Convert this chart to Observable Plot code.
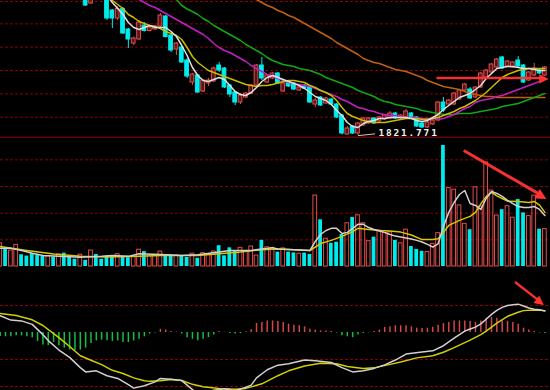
<!DOCTYPE html>
<html><head><meta charset="utf-8">
<script src="https://cdn.jsdelivr.net/npm/d3@7"></script>
<script src="https://cdn.jsdelivr.net/npm/@observablehq/plot@0.6"></script>
<style>
html,body{margin:0;padding:0;background:#000;}
#chart{width:550px;height:390px;overflow:hidden;background:#000;}
#chart svg{display:block;}
</style></head><body><div id="chart"></div>
<script>
// ---------- data ----------
const N = 103;                       // bars in view (index 0..102)
const candleStart = 16;              // first candle visible inside price pane
const openP = [2102,2086,null,null,
 2098,2072,2056,2075,2034,2006,2014,2042,2031,2034,
 2040,2060,2022,1994,1998,1972,1928,1942,1910,1926,
 1930,1962,1956,1922,1908,1888,1898,1906,1922,1962,
 1928,1936,1946,1910,1928,1926,1912,1922,1918,1884,
 1898,1886,1894,1884,1862,1824,1840,1826,1842,1846,
 1856,1850,1854,1856,1866,1856,1858,1866,1858,1846,
 1838,1844,1852,1888,1884,1884,1894,1912,1914,1898,
 1918,1938,1948,1958,1978,1960,1958,1972,1962,1932,
 1942,1952,1942];
const closeP = [2082,2096,null,null,
 2056,2056,2075,2026,2014,2016,2048,2031,2038,2040,
 2062,2019,1992,2006,1968,1940,1944,1908,1932,1932,
 1956,1952,1918,1904,1888,1902,1906,1922,1962,1936,
 1942,1946,1926,1926,1920,1914,1918,1916,1888,1892,
 1882,1896,1884,1858,1826,1836,1826,1846,1856,1856,
 1846,1858,1862,1866,1856,1862,1870,1856,1840,1838,
 1848,1852,1888,1872,1892,1906,1912,1924,1896,1918,
 1946,1952,1964,1974,1956,1970,1968,1960,1928,1948,
 1956,1946,1958];
const highP = [2108,2102,null,null,
 2104,2074,2080,2078,2036,2019,2052,2048,2040,2042,
 2066,2062,2026,2008,2000,1976,1946,1944,1934,1936,
 1959,1968,1958,1924,1910,1906,1908,1924,1964,1978,
 1944,1948,1948,1928,1930,1928,1920,1924,1920,1896,
 1900,1898,1896,1886,1864,1840,1842,1848,1858,1858,
 1858,1860,1864,1870,1868,1864,1874,1868,1860,1848,
 1850,1854,1890,1898,1894,1908,1914,1926,1918,1920,
 1948,1954,1966,1976,1980,1972,1970,1980,1964,1950,
 1966,1954,1960];
const lowP = [2080,2084,null,null,
 2052,2036,2052,2024,1996,2002,2012,2029,2029,2032,
 2038,2017,1988,1982,1966,1936,1922,1906,1908,1920,
 1928,1948,1916,1898,1882,1884,1896,1904,1920,1932,
 1926,1934,1924,1908,1918,1912,1910,1914,1886,1878,
 1880,1884,1882,1856,1823,1823,1824,1821.771,1840,1844,
 1844,1848,1852,1854,1854,1854,1856,1854,1838,1836,
 1836,1842,1850,1868,1882,1882,1892,1910,1894,1896,
 1916,1936,1946,1956,1954,1958,1956,1958,1926,1930,
 1940,1944,1940];

// moving averages of price (start index, values)
const ma5Start = 20;
const ma5 = [2102,2088,2076,2064,2048,2038,2034,2038,2042,2038,
 2038,2038,2030,2020,2002,1982,1958,1942,1932,1930,
 1934,1938,1934,1922,1910,1904,1902,1908,1918,1930,
 1938,1942,1938,1934,1930,1926,1922,1916,1908,1900,
 1896,1892,1884,1872,1862,1848,1840,1838,1846,1850,
 1852,1856,1856,1858,1858,1858,1858,1856,1852,1850,
 1852,1858,1864,1874,1882,1890,1898,1902,1906,1914,
 1922,1936,1946,1956,1958,1960,1960,1958,1956,1956,
 1954,1952,1952];
const ma10Start = 21;
const ma10 = [2092,2084,2076,2064,2058,2050,2046,2042,2040,
 2036,2030,2026,2022,2014,1998,1980,1968,1960,1952,
 1948,1944,1940,1936,1932,1928,1924,1922,1920,1922,
 1922,1924,1927,1930,1932,1932,1930,1928,1922,1918,
 1912,1908,1902,1892,1878,1866,1860,1856,1852,1850,
 1848,1848,1848,1850,1852,1854,1856,1856,1856,1854,
 1854,1856,1858,1862,1866,1870,1876,1880,1886,1892,
 1900,1908,1918,1928,1938,1944,1948,1952,1954,1956,
 1956,1956,1956];
const ma20Start = 26;
const ma20 = [2094,2088,2082,2078,
 2072,2066,2060,2054,2048,2042,2036,2030,2024,2016,
 2006,1998,1992,1988,1982,1976,1970,1962,1956,1950,
 1944,1940,1936,1932,1928,1926,1924,1922,1920,1916,
 1912,1908,1904,1900,1894,1890,1884,1878,1876,1872,
 1870,1866,1864,1862,1862,1860,1858,1858,1858,1856,
 1856,1856,1854,1856,1860,1864,1870,1876,1880,1888,
 1892,1894,1896,1900,1902,1906,1910,1914,1918,1922,
 1926,1930,1936];
const ma30Start = 33;
const ma30 = [2094,2082,2075,2070,2064,2056,2050,
 2042,2036,2030,2024,2018,2012,2004,1998,1992,1986,
 1978,1972,1968,1964,1962,1960,1956,1954,1952,1948,
 1944,1938,1934,1930,1926,1922,1918,1912,1908,1904,
 1900,1894,1890,1888,1884,1882,1880,1878,1876,1872,
 1870,1868,1866,1864,1864,1864,1866,1866,1866,1868,
 1870,1872,1874,1876,1880,1882,1884,1886,1890,1894,
 1898,1902,1906];
const ma60Start = 48;
const ma60 = [2094,2088,
 2082,2078,2072,2068,2062,2058,2052,2046,2040,2034,
 2028,2022,2016,2008,2002,1996,1990,1984,1976,1972,
 1968,1966,1962,1958,1954,1952,1950,1946,1942,1938,
 1932,1928,1924,1920,1918,1916,1914,1910,1906,1904,
 1902,1900,1900,1898,1898,1898,1898,1898,1898,1898,
 1898,1898,1898];

// volume (1 = up / red, 0 = down / cyan)
const vol = [87,69,60,81,44,39,48,41,38,38,
 35,45,50,35,27,44,23,60,45,27,
 39,41,46,35,33,39,63,56,41,42,
 56,44,44,41,40,34,48,31,50,44,
 56,78,40,70,60,70,57,75,41,98,
 72,70,54,68,54,51,48,50,45,266,
 175,104,87,91,120,162,184,192,162,95,
 110,135,125,128,98,87,138,75,64,57,
 54,85,125,454,294,288,229,160,138,297,
 225,390,285,191,213,226,183,251,201,189,
 266,140,140];
const volUp = [1,0,1,1,0,0,0,0,0,1,
 0,1,0,0,0,1,0,1,0,0,
 0,0,1,0,0,1,1,0,1,1,
 1,0,0,1,0,0,1,0,1,1,
 1,0,0,0,0,1,1,1,1,0,
 1,1,0,1,0,0,1,0,0,1,
 0,1,0,0,0,1,0,1,1,1,
 0,1,1,1,0,1,1,0,0,0,
 1,1,1,0,1,1,1,1,0,1,
 1,1,1,1,0,1,1,0,0,1,
 1,0,1];
const volMa5 = [[0,68],[2,68],[4,60],[6,50],[8,41],[11,38],[15,35],[19,38],[21,41],[24,38],[26,48],[30,45],[34,41],[37,44],[41,54],[43,60],[47,60],[49,66],[51,70],[52,66],[55,63],[58,60],[59,94],[60,120],[61,135],[62,143],[63,143],[64,124],[65,128],[66,143],[67,158],[68,158],[69,146],[70,139],[71,133],[72,128],[73,120],[74,114],[75,111],[76,107],[77,103],[78,98],[79,92],[80,83],[81,73],[82,85],[83,150],[84,203],[85,240],[86,270],[87,285],[88,236],[89,229],[90,214],[91,255],[92,281],[93,274],[94,263],[95,248],[96,236],[97,225],[98,221],[99,221],[100,225],[101,214],[102,191]];
const volMa10 = [[0,75],[5,60],[10,47],[15,38],[20,36],[26,38],[30,41],[34,41],[37,41],[41,48],[45,54],[49,63],[52,66],[58,60],[60,86],[62,98],[64,113],[66,131],[67,143],[69,139],[71,135],[73,133],[75,129],[77,118],[79,101],[81,101],[82,104],[83,128],[84,154],[86,173],[88,188],[89,203],[90,235],[91,262],[92,278],[93,265],[94,255],[95,245],[97,244],[99,240],[100,244],[101,230],[102,203]];

// MACD
const macdHist = [-1.5,-1.6,-1.6,-1.2,-1.2,-1.6,-1.9,-3.3,-4.6,-4.9,
 -3.7,-4.9,-5.8,-6.5,-6.8,-6.5,-5.8,-4.1,-3.1,-2.8,
 -3.1,-3.3,-3.1,-3.7,-3.7,-3.1,-2.5,-1.6,-0.6,-0.2,
 1.2,0.9,0.4,0.2,-0.6,-1.9,-2.5,-3.1,-2.5,-1.9,
 -0.9,0.4,0.1,-0.4,-0.6,-0.4,0.2,1.0,3.3,3.7,
 4.3,4.3,4.1,3.7,3.1,2.7,2.5,2.1,1.2,0.9,
 0.6,0.6,0.4,-0.2,-1.2,-1.6,-1.9,-0.9,-0.4,-0.1,
 0.4,0.9,1.9,2.1,2.5,2.5,2.5,2.1,1.6,1.5,
 1.6,1.9,2.7,3.3,3.7,4.3,4.3,4.3,4.1,3.7,
 4.3,5.3,5.6,5.3,4.3,4.1,3.7,3.1,1.6,0.9,
 0.4,-0.2,-0.4];
const macdDif = [[0,6.2],[2,4.6],[4,4.3],[6,3.0],[8,-0.8],[9,-3.0],[11,-6.5],[13,-9.2],[15,-13],[16,-14.6],[18,-14.2],[20,-16],[22,-17],[24,-19.3],[25,-20.6],[27,-19.7],[29,-18.3],[30,-17],[32,-17.3],[34,-17.8],[35,-19.5],[37,-22.8],[40,-21.4],[42,-20.8],[44,-21.6],[46,-20.3],[47,-19.5],[48,-16.8],[50,-13.8],[52,-12.1],[54,-11.6],[57,-10.2],[59,-10.5],[62,-11.1],[64,-13],[66,-14.6],[68,-14.2],[70,-13.3],[72,-12],[74,-10.2],[76,-8],[79,-7.2],[81,-6.8],[83,-4.9],[85,-2.1],[87,0.5],[88,1.3],[89,2.0],[90,3.2],[91,4.9],[92,6.7],[93,8.2],[94,9.3],[95,10.0],[96,10.3],[97,10.5],[98,9.8],[99,9.1],[100,8.6],[101,8.4],[102,8.0]];
const macdDea = [[0,7.0],[3,6.3],[6,4.7],[8,2.6],[10,-0.4],[11,-1.9],[13,-5.2],[15,-8.6],[17,-10.3],[19,-11.9],[21,-14],[23,-15.2],[25,-16.8],[27,-17.9],[28,-18.1],[30,-17.9],[32,-17.4],[34,-17.8],[36,-19.2],[38,-20.1],[41,-20.7],[44,-21],[46,-20.7],[49,-19],[52,-16.0],[54,-14.2],[57,-12.4],[60,-11.4],[63,-11.6],[65,-12.6],[68,-13.3],[70,-13.1],[73,-11.8],[75,-10.9],[78,-9.4],[81,-8.6],[83,-7.3],[85,-5.6],[88,-2.8],[90,-0.8],[91,0.5],[93,3.5],[95,6.0],[97,7.5],[98,8.1],[100,8.3],[102,8.1]];

// horizontal guide levels per pane
const gridPrice = [2090, 2045.3, 1998.7, 1952, 1905.3, 1858.7];
const gridVol = [100, 200, 300, 400];
const gridMacd = [10, -10, -20];

// red annotation arrows (data coordinates, tail -> tip)
const priceArrow = [{x1: 81.7, y1: 1937, x2: 102.6, y2: 1937}];
const volArrow = [{x1: 86.8, y1: 435, x2: 102.3, y2: 256}];
const macdArrow = [{x1: 96.4, y1: 18.7, x2: 101.8, y2: 10.4}];

// ---------- styling ----------
const RED = "#e24c4c", CYAN = "#00ecec", GRID = "#8a0000", SEP = "#6a0000";
const ARROW = "#ff3434";

// ---------- scales ----------
const xDomain = [0, N - 1], xRange = [-0.3, 544.4];
const priceDomain = [1818, 2092], priceRange = [137, 0];
const volDomain = [0, 480], volRange = [128, 0];
const macdDomain = [-21.48, 23.7], macdRange = [122, 0];
const kx = (xRange[1] - xRange[0]) / (xDomain[1] - xDomain[0]);
const kyOf = (dom, rng) => (rng[0] - rng[1]) / (dom[1] - dom[0]);

// arrow shaft + filled triangular head (a rotated ▶ glyph)
function arrowMarks(arr, dom, rng, width, headSize) {
  const ky = kyOf(dom, rng);
  const parts = arr.map(a => {
    const dxp = (a.x2 - a.x1) * kx, dyp = -(a.y2 - a.y1) * ky;
    const len = Math.hypot(dxp, dyp);
    const ux = dxp / len, uy = dyp / len;
    const back = headSize * 0.38;
    return {
      x1: a.x1, y1: a.y1,
      hx: a.x2 - ux * back / kx, hy: a.y2 + uy * back / ky,
      rot: Math.atan2(dyp, dxp) * 180 / Math.PI
    };
  });
  return [
    Plot.link(parts, {x1: "x1", y1: "y1", x2: "hx", y2: "hy", stroke: ARROW, strokeWidth: width, strokeOpacity: 0.95}),
    Plot.text(parts, {x: "hx", y: "hy", text: () => "\u25B6", rotate: "rot", fill: ARROW,
      fontSize: headSize, fontFamily: "DejaVu Sans", textAnchor: "middle", lineAnchor: "middle"})
  ];
}

// ---------- tables ----------
const candles = openP.map((o, k) => ({
  i: k + candleStart, open: o, close: closeP[k], high: highP[k], low: lowP[k]
})).filter(d => d.open != null).map(d => ({...d, up: d.close >= d.open,
  top: Math.max(d.open, d.close), bot: Math.min(d.open, d.close)}));
const maRows = (start, vals) => vals.map((v, k) => ({i: start + k, v}));
const bars = vol.map((v, i) => ({i, vol: v, up: volUp[i] === 1}));
const hist = macdHist.map((v, i) => ({i, v}));
const lowPt = d3.least(candles, d => d.low);

const baseStyle = "background:#000;overflow:hidden;display:block;max-width:none;";
const common = {
  width: 550, marginTop: 0, marginRight: 0, marginBottom: 0, marginLeft: 0,
  x: {domain: xDomain, range: xRange, axis: null},
  style: baseStyle
};
const hw = 0.35;

const price = Plot.plot({
  ...common, height: 138,
  y: {domain: priceDomain, range: priceRange, axis: null},
  marks: [
    Plot.ruleY(gridPrice, {stroke: GRID, strokeDasharray: "3,2"}),
    Plot.ruleX(candles, {x: "i", y1: "top", y2: "high", stroke: d => d.up ? RED : CYAN, clip: true}),
    Plot.ruleX(candles, {x: "i", y1: "low", y2: "bot", stroke: d => d.up ? RED : CYAN, clip: true}),
    Plot.rect(candles, {x1: d => d.i - hw, x2: d => d.i + hw, y1: "open", y2: "close",
      fill: d => d.up ? "rgba(200,60,60,0.4)" : CYAN, stroke: d => d.up ? RED : CYAN, strokeWidth: 1, clip: true}),
    Plot.line(maRows(ma60Start, ma60), {x: "i", y: "v", stroke: "#c06010", clip: true}),
    Plot.line(maRows(ma30Start, ma30), {x: "i", y: "v", stroke: "#10a810", clip: true}),
    Plot.line(maRows(ma20Start, ma20), {x: "i", y: "v", stroke: "#c020c0", clip: true}),
    Plot.line(maRows(ma10Start, ma10), {x: "i", y: "v", stroke: "#c8bc00", clip: true}),
    Plot.line(maRows(ma5Start, ma5), {x: "i", y: "v", stroke: "#e0e0e0", clip: true}),
    Plot.ruleY([priceDomain[0]], {stroke: SEP, strokeWidth: 2}),
    ...arrowMarks(priceArrow, priceDomain, priceRange, 2.5, 12),
    Plot.link([lowPt], {x1: "i", y1: "low", x2: d => d.i + 3.2, y2: d => d.low + 3.5, stroke: "#c8c8c8"}),
    Plot.text([lowPt], {x: "i", y: "low", text: d => d3.format(".3f")(d.low), dx: 20.5, dy: -3,
      textAnchor: "start", fill: "#f0f0f0", fontSize: 9.5, fontWeight: "bold", fontFamily: "DejaVu Sans Mono"})
  ]
});
// letter spacing for the low-price label only
price.querySelectorAll("text").forEach(t => { if (/\d/.test(t.textContent)) t.setAttribute("letter-spacing", "1.8"); });

const volume = Plot.plot({
  ...common, height: 130,
  y: {domain: volDomain, range: volRange, axis: null},
  marks: [
    Plot.ruleY(gridVol, {stroke: GRID, strokeDasharray: "3,2"}),
    Plot.rect(bars.filter(d => d.up), {x1: d => d.i - hw, x2: d => d.i + hw, y1: d => 0, y2: "vol", fill: "none", stroke: RED}),
    Plot.rect(bars.filter(d => !d.up), {x1: d => d.i - hw, x2: d => d.i + hw, y1: d => 0, y2: "vol", fill: CYAN}),
    Plot.line(volMa10, {x: d => d[0], y: d => d[1], stroke: "#d4c800"}),
    Plot.line(volMa5, {x: d => d[0], y: d => d[1], stroke: "#d0d0d0"}),
    ...arrowMarks(volArrow, volDomain, volRange, 3, 14)
  ]
});

const macd = Plot.plot({
  ...common, height: 122,
  y: {domain: macdDomain, range: macdRange, axis: null},
  marks: [
    Plot.ruleY(gridMacd, {stroke: GRID, strokeDasharray: "3,2"}),
    Plot.ruleX(hist, {x: "i", y1: d => 0, y2: "v", stroke: d => d.v >= 0 ? "#d04848" : "#10c040", strokeWidth: 1.5}),
    Plot.line(macdDea, {x: d => d[0], y: d => d[1], stroke: "#d0d000", clip: true}),
    Plot.line(macdDif, {x: d => d[0], y: d => d[1], stroke: "#d0d0d0", clip: true}),
    ...arrowMarks(macdArrow, macdDomain, macdRange, 2.5, 12)
  ]
});

const root = document.getElementById("chart");
root.append(price, volume, macd);
</script>
</body></html>
